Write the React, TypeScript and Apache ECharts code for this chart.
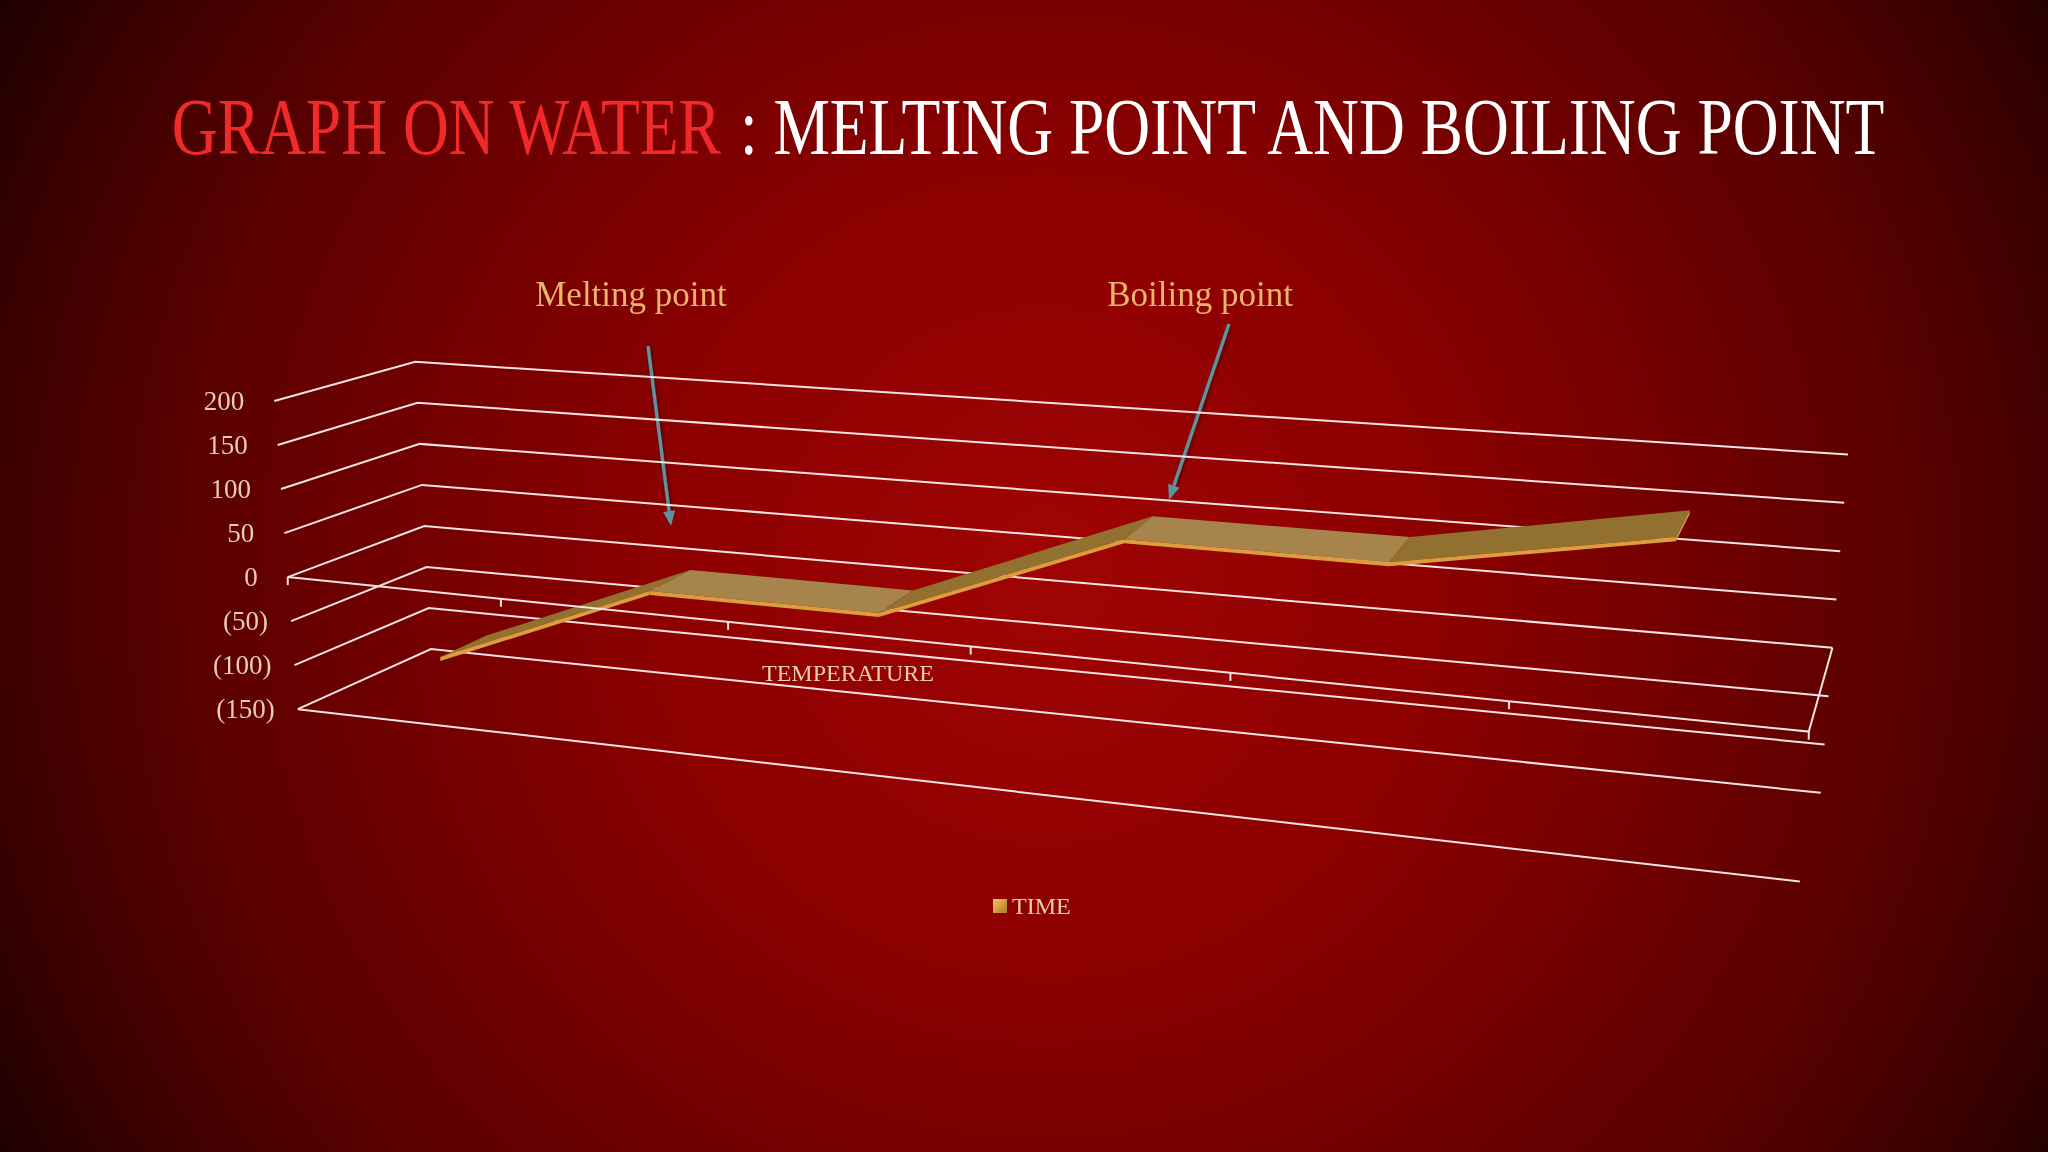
import React, { useEffect, useRef } from "react";
import * as echarts from "echarts";

// ---------------- data ----------------
const categories = ["1", "2", "3", "4", "5", "6"];
const seriesName = "TIME";
const timeValues = [-100, 0, 0, 105, 105, 156];
const yMin = -150;
const yMax = 200;
const yInterval = 50;
const yTicks = [-150, -100, -50, 0, 50, 100, 150, 200];
const categoryAxisTitle = "TEMPERATURE";
const titleRed = "GRAPH ON WATER";
const titleWhite = " : MELTING POINT AND BOILING POINT";
const meltingLabel = "Melting point";
const boilingLabel = "Boiling point";

// ---------------- styles / layout ----------------
const FONT = "'Liberation Serif', 'DejaVu Serif', serif";
const GRID_COLOR = "#f5e2e2";
const LABEL_COLOR = "#e9cdb1";
const NOTE_COLOR = "#e8b56e";
const ARROW_COLOR = "#5f939d";
const STRIP_COLOR = "#dc9e3c";
const FLAT_COLOR = "#a6844b";
const SLOPE_COLOR = "#92702f";
const CAP_COLOR = "#c4964a";

// perspective box (page pixels): F/B = front/back, L/R = left/right, B/T = bottom(min)/top(max)
const BOX = {
  FLB: [297.8, 709.2], FLT: [274.3, 401.0],
  BLB: [431.0, 649.1], BLT: [415.3, 361.8],
  FRB: [1799.8, 881.6], FRT: [1820.7, 531.6],
  BRB: [1820.7, 792.8], BRT: [1848.1, 454.5],
};
const PERSP = 0.815;
const W_FRONT = 0.33;
const W_BACK = 0.69;
const STRIP = 4;

type P2 = number[];
const lerp = (a: P2, b: P2, t: number): P2 => [a[0] + (b[0] - a[0]) * t, a[1] + (b[1] - a[1]) * t];
function project(u: number, f: number, w: number): P2 {
  const t = (PERSP * u) / (1 + (PERSP - 1) * u);
  const L = lerp(lerp(BOX.FLB, BOX.FLT, f), lerp(BOX.BLB, BOX.BLT, f), w);
  const R = lerp(lerp(BOX.FRB, BOX.FRT, f), lerp(BOX.BRB, BOX.BRT, f), w);
  return lerp(L, R, t);
}
function norm(params: any, api: any, cat: number, val: number): P2 {
  const cs = params.coordSys;
  const p = api.coord([cat, val]);
  return [(p[0] - cs.x) / cs.width, (cs.y + cs.height - p[1]) / cs.height];
}
const down = (p: P2, d: number): P2 => [p[0], p[1] + d];

function arrow(x1: number, y1: number, x2: number, y2: number) {
  const dx = x2 - x1, dy = y2 - y1;
  const len = Math.hypot(dx, dy);
  const ux = dx / len, uy = dy / len;
  const hl = 15, hw = 6;
  const bx = x2 - ux * hl, by = y2 - uy * hl;
  return {
    type: "group",
    children: [
      { type: "line", shape: { x1, y1, x2: bx, y2: by }, style: { stroke: ARROW_COLOR, lineWidth: 3.4, shadowBlur: 4, shadowColor: "rgba(0,0,0,0.5)", shadowOffsetX: 1, shadowOffsetY: 2 } },
      { type: "polygon", shape: { points: [[x2, y2], [bx - uy * hw, by + ux * hw], [bx + uy * hw, by - ux * hw]] }, style: { fill: ARROW_COLOR } },
    ],
  };
}

export default function App() {
  const ref = useRef<HTMLDivElement>(null);
  useEffect(() => {
    if (!ref.current) return;
    const chart = echarts.init(ref.current, null, { renderer: "svg" });
    const n = categories.length;

    const option: any = {
      animation: false,
      backgroundColor: "transparent",
      grid: { left: 100, right: 100, top: 100, bottom: 100, show: false },
      xAxis: { type: "category", data: categories, boundaryGap: true, show: false },
      yAxis: { type: "value", min: yMin, max: yMax, interval: yInterval, show: false },
      legend: {
        data: [{ name: seriesName, itemStyle: { color: { type: "linear", x: 0, y: 0, x2: 1, y2: 1, colorStops: [{ offset: 0, color: "#f2c465" }, { offset: 1, color: "#b37a22" }] } } }],
        left: 988,
        top: 889,
        icon: "rect",
        itemWidth: 14,
        itemHeight: 14,
        itemGap: 8,
        textStyle: { color: LABEL_COLOR, fontSize: 24, fontFamily: FONT },
      },
      graphic: [
        {
          type: "text",
          x: 1029,
          y: 127,
          scaleY: 1.25,
          style: {
            text: `{r|${titleRed}}{w|${titleWhite}}`,
            align: "center",
            verticalAlign: "middle",
            fontFamily: FONT,
            fontSize: 63.5,
            rich: {
              r: { fill: "#f02a2a", fontSize: 63.5, fontFamily: FONT },
              w: { fill: "#ffffff", fontSize: 63.5, fontFamily: FONT },
            },
          },
        },
        { type: "text", x: 631, y: 294, style: { text: meltingLabel, align: "center", verticalAlign: "middle", fill: NOTE_COLOR, fontSize: 35, fontFamily: FONT } },
        { type: "text", x: 1200, y: 294, style: { text: boilingLabel, align: "center", verticalAlign: "middle", fill: NOTE_COLOR, fontSize: 35, fontFamily: FONT } },
        { type: "text", x: 848, y: 673, style: { text: categoryAxisTitle, align: "center", verticalAlign: "middle", fill: LABEL_COLOR, fontSize: 24, fontFamily: FONT } },
        arrow(648, 346, 671, 526),
        arrow(1229, 324, 1169, 500),
      ],
      series: [
        {
          type: "custom",
          name: "walls",
          z: 1,
          silent: true,
          clip: false,
          data: yTicks.map((v) => [0, v]),
          encode: { x: 0, y: 1 },
          renderItem: (params: any, api: any) => {
            const v = api.value(1);
            const f = norm(params, api, 0, v)[1];
            const fl = project(0, f, 0);
            const bl = project(0, f, 1);
            const br = project(1, f, 1);
            const label = v < 0 ? `(${-v})` : `${v}`;
            return {
              type: "group",
              children: [
                { type: "polyline", shape: { points: [fl, bl, br] }, style: { stroke: GRID_COLOR, lineWidth: 2, fill: null } },
                { type: "text", x: fl[0] - (v < 0 ? 23 : 30), y: fl[1], style: { text: label, align: "right", verticalAlign: "middle", fill: LABEL_COLOR, fontSize: 27, fontFamily: FONT } },
              ],
            };
          },
        },
        {
          type: "custom",
          name: seriesName,
          z: 2,
          clip: false,
          itemStyle: { color: "#c8902f" },
          data: timeValues.map((v, i) => [i, v, i + 1 < timeValues.length ? timeValues[i + 1] : v]),
          encode: { x: 0, y: 1 },
          renderItem: (params: any, api: any) => {
            const i = api.value(0);
            const v0 = api.value(1);
            const v1 = api.value(2);
            const [u0, f0] = norm(params, api, i, v0);
            const a = project(u0, f0, W_FRONT);
            const d = project(u0, f0, W_BACK);
            if (i >= n - 1) {
              return { type: "polygon", shape: { points: [a, d, down(d, STRIP), down(a, STRIP)] }, style: { fill: CAP_COLOR } };
            }
            const [u1, f1] = norm(params, api, i + 1, v1);
            const b = project(u1, f1, W_FRONT);
            const c = project(u1, f1, W_BACK);
            const flat = Math.abs(v1 - v0) < 1e-9;
            return {
              type: "group",
              children: [
                { type: "polygon", shape: { points: [a, b, c, d] }, style: { fill: flat ? FLAT_COLOR : SLOPE_COLOR } },
                { type: "polygon", shape: { points: [a, b, down(b, STRIP), down(a, STRIP)] }, style: { fill: STRIP_COLOR } },
              ],
            };
          },
        },
        {
          type: "custom",
          name: "axis",
          z: 3,
          silent: true,
          clip: false,
          data: [[0, 0]],
          encode: { x: 0, y: 1 },
          renderItem: (params: any, api: any) => {
            const f0 = norm(params, api, 0, 0)[1];
            const fMin = norm(params, api, 0, yMin)[1];
            const bw = api.size([1, 0])[0];
            const cs = params.coordSys;
            const bounds: number[] = [];
            for (let k = 0; k < n; k++) bounds.push((api.coord([k, 0])[0] - bw / 2 - cs.x) / cs.width);
            bounds.push((api.coord([n - 1, 0])[0] + bw / 2 - cs.x) / cs.width);
            const st = { stroke: GRID_COLOR, lineWidth: 2 };
            const fl = project(0, f0, 0);
            const fr = project(1, f0, 0);
            const br = project(1, f0, 1);
            const children: any[] = [
              { type: "polyline", shape: { points: [fl, fr, br] }, style: { ...st, fill: null } },
              { type: "line", shape: { x1: project(0, fMin, 0)[0], y1: project(0, fMin, 0)[1], x2: project(1, fMin, 0)[0], y2: project(1, fMin, 0)[1] }, style: st },
            ];
            bounds.forEach((u) => {
              const p = project(u, f0, 0);
              children.push({ type: "line", shape: { x1: p[0], y1: p[1], x2: p[0], y2: p[1] + 8 }, style: st });
            });
            return { type: "group", children };
          },
        },
      ],
    };
    chart.setOption(option);
    return () => chart.dispose();
  }, []);

  return (
    <div
      ref={ref}
      style={{
        position: "fixed",
        left: 0,
        top: 0,
        width: "100vw",
        height: "100vh",
        background:
          "radial-gradient(circle farthest-corner at 51% 50%, #a00404 0%, #8c0000 33%, #750000 52%, #570000 74%, #3a0000 89%, #1e0000 100%)",
      }}
    />
  );
}
